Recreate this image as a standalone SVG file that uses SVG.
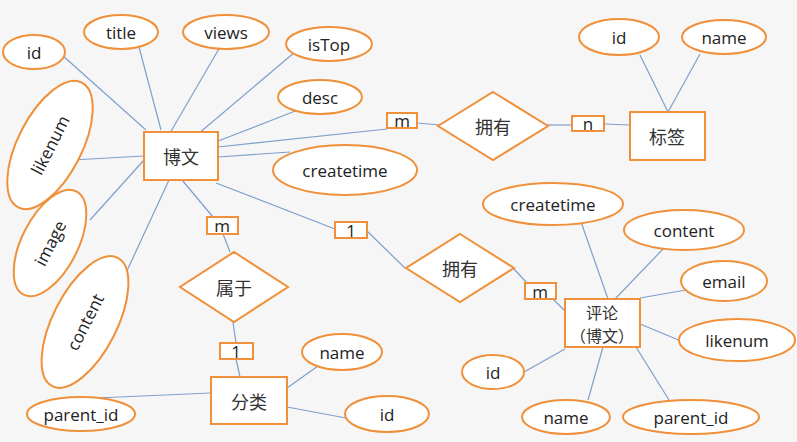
<svg xmlns="http://www.w3.org/2000/svg" width="797" height="442" viewBox="0 0 797 442">
<style>
.e{fill:#fff;stroke:#f0903a;stroke-width:2}
.b{fill:#fff;stroke:#f0903a;stroke-width:2}
.c line{stroke:#7f9fcc;stroke-width:1.2}
text{font-family:"Open Sans","Liberation Sans","Noto Sans CJK SC",sans-serif;font-size:17px;fill:#222;text-anchor:middle;dominant-baseline:central}
.z{font-family:"Noto Sans CJK SC",sans-serif;font-size:18px;fill:#333}
.s{font-size:16px}
</style>
<rect width="797" height="442" fill="#f6f6f6"/>
<g class="c" id="connectors">
<line x1="62" y1="55" x2="146" y2="130"/><line x1="139" y1="47" x2="161" y2="130"/>
<line x1="220" y1="47" x2="170" y2="133"/><line x1="295" y1="52" x2="198" y2="134"/>
<line x1="303" y1="108" x2="213" y2="143"/><line x1="72" y1="160" x2="144" y2="156"/>
<line x1="218" y1="157" x2="290" y2="152"/><line x1="218" y1="147" x2="387" y2="129"/>
<line x1="417" y1="123" x2="440" y2="125"/><line x1="546" y1="125" x2="572" y2="125"/>
<line x1="604" y1="124" x2="630" y2="125"/><line x1="640" y1="55" x2="668" y2="112"/>
<line x1="700" y1="54" x2="668" y2="112"/><line x1="144" y1="160" x2="90" y2="220"/>
<line x1="169" y1="180" x2="125" y2="275"/><line x1="182" y1="180" x2="213" y2="217"/>
<line x1="223" y1="234" x2="230" y2="252"/><line x1="216" y1="183" x2="335" y2="229"/>
<line x1="367" y1="231" x2="405" y2="268"/><line x1="513" y1="268" x2="527" y2="283"/>
<line x1="553" y1="299" x2="565" y2="311"/><line x1="233" y1="322" x2="236" y2="343"/>
<line x1="236" y1="359" x2="240" y2="377"/><line x1="580" y1="219" x2="608" y2="299"/>
<line x1="664" y1="248" x2="615" y2="299"/><line x1="686" y1="290" x2="640" y2="298"/>
<line x1="640" y1="324" x2="681" y2="341"/><line x1="565" y1="349" x2="524" y2="372"/>
<line x1="603" y1="347" x2="588" y2="400"/><line x1="636" y1="347" x2="669" y2="400"/>
<line x1="287" y1="388" x2="318" y2="366"/><line x1="287" y1="407" x2="346" y2="418"/>
<line x1="211" y1="393" x2="96" y2="398"/>
</g>
<g id="attr-id"><ellipse class="e" cx="34" cy="52" rx="31" ry="17"/><text x="34" y="52">id</text></g>
<g id="attr-title"><ellipse class="e" cx="121" cy="32" rx="37" ry="17"/><text x="121" y="32">title</text></g>
<g id="attr-views"><ellipse class="e" cx="226" cy="32" rx="43" ry="17"/><text x="226" y="32">views</text></g>
<g id="attr-isTop"><ellipse class="e" cx="329" cy="44" rx="43" ry="17"/><text x="329" y="44">isTop</text></g>
<g id="attr-desc"><ellipse class="e" cx="320" cy="97" rx="42" ry="17"/><text x="320" y="97">desc</text></g>
<g id="attr-createtime"><ellipse class="e" cx="345" cy="170" rx="72" ry="25"/><text x="345" y="170">createtime</text></g>
<g id="attr-likenum" transform="translate(50,145) rotate(-63)"><ellipse class="e" cx="0" cy="0" rx="70" ry="32"/><text x="0" y="0">likenum</text></g>
<g id="attr-image" transform="translate(50,243) rotate(-63)"><ellipse class="e" cx="0" cy="0" rx="58" ry="28"/><text x="0" y="0">image</text></g>
<g id="attr-content" transform="translate(85,322) rotate(-63)"><ellipse class="e" cx="0" cy="0" rx="72" ry="32"/><text x="0" y="0">content</text></g>
<g id="blog"><rect class="b" x="144" y="132" width="74" height="48"/><text class="z" x="181" y="156">博文</text></g>
<g id="rel-own1"><polygon class="b" points="493,92 548,126 493,160 438,126"/><text class="z" x="493" y="126">拥有</text></g>
<g id="card-m1"><rect class="b" x="387" y="113" width="30" height="15"/><text x="402" y="120">m</text></g>
<g id="card-n"><rect class="b" x="572" y="116" width="32" height="15"/><text x="588" y="123">n</text></g>
<g id="tag"><rect class="b" x="630" y="112" width="75" height="48"/><text class="z" x="667" y="136">标签</text></g>
<g id="tag-id"><ellipse class="e" cx="619" cy="37" rx="40" ry="18"/><text x="619" y="37">id</text></g>
<g id="tag-name"><ellipse class="e" cx="724" cy="37" rx="42" ry="17"/><text x="724" y="37">name</text></g>
<g id="card-1a"><rect class="b" x="335" y="222" width="32" height="16"/><text x="351" y="230">1</text></g>
<g id="rel-own2"><polygon class="b" points="460,234 514,268 460,302 406,268"/><text class="z" x="460" y="268">拥有</text></g>
<g id="card-m2"><rect class="b" x="525" y="283" width="31" height="16"/><text x="540" y="291">m</text></g>
<g id="comment"><rect class="b" x="565" y="299" width="75" height="48"/><text class="z s" x="602" y="312">评论</text><text class="z s" x="602" y="335">（博文）</text></g>
<g id="c-createtime"><ellipse class="e" cx="553" cy="204" rx="70" ry="21"/><text x="553" y="204">createtime</text></g>
<g id="c-content"><ellipse class="e" cx="684" cy="230" rx="60" ry="20"/><text x="684" y="230">content</text></g>
<g id="c-email"><ellipse class="e" cx="724" cy="281" rx="43" ry="20"/><text x="724" y="281">email</text></g>
<g id="c-likenum"><ellipse class="e" cx="737" cy="340" rx="58" ry="21"/><text x="737" y="340">likenum</text></g>
<g id="c-id"><ellipse class="e" cx="493" cy="372" rx="31" ry="17"/><text x="493" y="372">id</text></g>
<g id="c-name"><ellipse class="e" cx="566" cy="417" rx="44" ry="17"/><text x="566" y="417">name</text></g>
<g id="c-parent"><ellipse class="e" cx="691" cy="417" rx="68" ry="17"/><text x="691" y="417">parent_id</text></g>
<g id="card-m3"><rect class="b" x="207" y="217" width="31" height="17"/><text x="222" y="225">m</text></g>
<g id="rel-belong"><polygon class="b" points="234,252 288,287 234,322 180,287"/><text class="z" x="234" y="287">属于</text></g>
<g id="card-1b"><rect class="b" x="220" y="343" width="33" height="16"/><text x="236" y="351">1</text></g>
<g id="category"><rect class="b" x="211" y="377" width="76" height="47"/><text class="z" x="249" y="401">分类</text></g>
<g id="cat-name"><ellipse class="e" cx="342" cy="352" rx="40" ry="18"/><text x="342" y="352">name</text></g>
<g id="cat-id"><ellipse class="e" cx="387" cy="414" rx="42" ry="18"/><text x="387" y="414">id</text></g>
<g id="cat-parent"><ellipse class="e" cx="81" cy="414" rx="54" ry="17"/><text x="81" y="414">parent_id</text></g>
</svg>
